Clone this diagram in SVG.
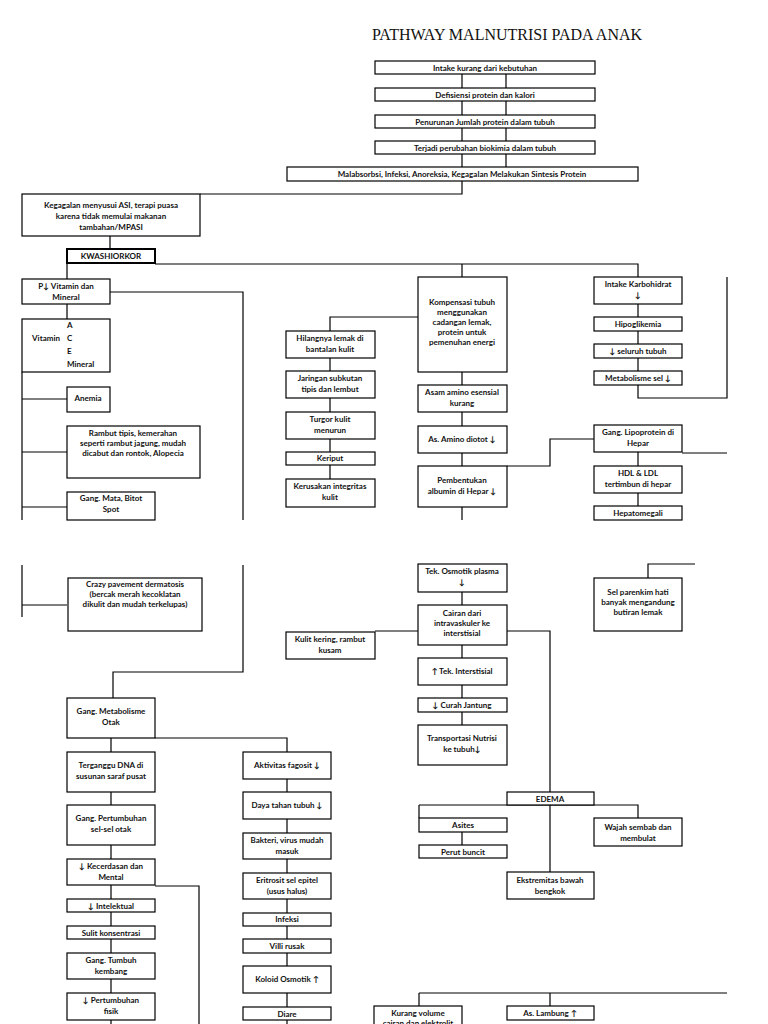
<svg xmlns="http://www.w3.org/2000/svg" width="768" height="1024" viewBox="0 0 768 1024">
<style>
rect{fill:#fff;stroke:#000;stroke-width:1.2}
.k{stroke-width:2}
#c path{fill:none;stroke:#000;stroke-width:1.2}
text{font-family:Lato,"Liberation Sans",sans-serif;font-size:8px;font-weight:bold;text-anchor:middle;fill:#111}
.t{font-family:"Liberation Serif",serif;font-size:16px;font-weight:normal}
.l{text-anchor:start}
</style>
<rect width="768" height="1024" style="fill:#fff;stroke:none"/>
<text class="t" x="507" y="40">PATHWAY MALNUTRISI PADA ANAK</text>
<g id="c">
<path d="M462 74V88M506 74V88M462 101V115M506 101V115M462 128V141M506 128V141M462 154V167M506 154V167"/>
<path d="M462 181V194H200M110 236V249M155 264H638V277M462 264V277M67 262V279"/>
<path d="M110 292H243V520M243 565V672H113V698"/>
<path d="M67 304V319M22 372V520M22 565V617M22 399H67M22 452H67M22 507H67M22 605H67"/>
<path d="M418 317H330V331M330 358V371M330 398V412M330 439V452M330 465V479"/>
<path d="M462 372V385M462 412V426M462 453V466M462 507V520M462 565V564M507 466H550V439H594"/>
<path d="M638 304V317M638 331V344M638 358V371M638 385V398H727V277"/>
<path d="M682 453H727M638 452V466M638 493V506M648 578V564H695"/>
<path d="M462 592V605M375 631H418M507 631H550V792M462 645V658M462 685V698M462 712V725"/>
<path d="M550 805V872M419 805H638V818M419 805V818M462 832V845"/>
<path d="M419 993H727M419 993V1006M550 993V1006"/>
<path d="M155 738H287V752M111 738V1024M155 886H199V1024"/>
<path d="M287 779V805M287 819V833M287 859V873M287 899V913M287 926V939M287 953V966M287 993V1007M287 1020V1024"/>
</g>
<g id="n1"><rect x="375" y="61" width="220" height="13"/><text x="485" y="71">Intake kurang dari kebutuhan</text></g>
<g id="n2"><rect x="375" y="88" width="220" height="13"/><text x="485" y="98">Defisiensi protein dan kalori</text></g>
<g id="n3"><rect x="375" y="115" width="220" height="13"/><text x="485" y="125">Penurunan Jumlah protein dalam tubuh</text></g>
<g id="n4"><rect x="375" y="141" width="220" height="13"/><text x="485" y="151">Terjadi perubahan biokimia dalam tubuh</text></g>
<g id="n5"><rect x="287" y="167" width="351" height="14"/><text x="462" y="177">Malabsorbsi, Infeksi, Anoreksia, Kegagalan Melakukan Sintesis Protein</text></g>
<g id="n6"><rect x="22" y="194" width="178" height="42"/><text x="111" y="208">Kegagalan menyusui ASI, terapi puasa</text><text x="111" y="219">karena tidak memulai makanan</text><text x="111" y="230">tambahan/MPASI</text></g>
<g id="n7"><rect class="k" x="67" y="249" width="88" height="14"/><text x="111" y="259">KWASHIORKOR</text></g>
<g id="n8"><rect x="22" y="279" width="88" height="25"/><text x="66" y="289">P↓ Vitamin dan</text><text x="66" y="300">Mineral</text></g>
<g id="n9"><rect x="22" y="319" width="88" height="53"/><text x="46" y="341">Vitamin</text><text class="l" x="67" y="328">A</text><text class="l" x="67" y="341">C</text><text class="l" x="67" y="354">E</text><text class="l" x="67" y="367">Mineral</text></g>
<g id="n10"><rect x="67" y="387" width="43" height="25"/><text x="88" y="401">Anemia</text></g>
<g id="n11"><rect x="67" y="426" width="133" height="52"/><text x="133" y="436">Rambut tipis, kemerahan</text><text x="133" y="446">seperti rambut jagung, mudah</text><text x="133" y="456">dicabut dan rontok, Alopecia</text></g>
<g id="n12"><rect x="67" y="492" width="88" height="28"/><text x="111" y="501">Gang. Mata, Bitot</text><text x="111" y="512">Spot</text></g>
<g id="n13"><rect x="68" y="578" width="134" height="53"/><text x="135" y="587">Crazy pavement dermatosis</text><text x="135" y="597">(bercak merah kecoklatan</text><text x="135" y="607">dikulit dan mudah terkelupas)</text></g>
<g id="n14"><rect x="418" y="277" width="89" height="95"/><text x="462" y="305">Kompensasi tubuh</text><text x="462" y="315">menggunakan</text><text x="462" y="325">cadangan lemak,</text><text x="462" y="335">protein untuk</text><text x="462" y="345">pemenuhan energi</text></g>
<g id="n15"><rect x="286" y="331" width="89" height="27"/><text x="330" y="341">Hilangnya lemak di</text><text x="330" y="352">bantalan kulit</text></g>
<g id="n16"><rect x="286" y="371" width="89" height="27"/><text x="330" y="381">Jaringan subkutan</text><text x="330" y="392">tipis dan lembut</text></g>
<g id="n17"><rect x="286" y="412" width="89" height="27"/><text x="330" y="422">Turgor kulit</text><text x="330" y="433">menurun</text></g>
<g id="n18"><rect x="286" y="452" width="89" height="13"/><text x="330" y="461">Keriput</text></g>
<g id="n19"><rect x="286" y="479" width="89" height="28"/><text x="330" y="489">Kerusakan integritas</text><text x="330" y="500">kulit</text></g>
<g id="n20"><rect x="418" y="385" width="89" height="27"/><text x="462" y="395">Asam amino esensial</text><text x="462" y="406">kurang</text></g>
<g id="n21"><rect x="418" y="426" width="89" height="27"/><text x="462" y="442">As. Amino diotot ↓</text></g>
<g id="n22"><rect x="418" y="466" width="89" height="41"/><text x="462" y="483">Pembentukan</text><text x="462" y="494">albumin di Hepar ↓</text></g>
<g id="n23"><rect x="594" y="277" width="88" height="27"/><text x="638" y="287">Intake Karbohidrat</text><text x="638" y="298">↓</text></g>
<g id="n24"><rect x="594" y="317" width="88" height="14"/><text x="638" y="327">Hipoglikemia</text></g>
<g id="n25"><rect x="594" y="344" width="88" height="14"/><text x="638" y="354">↓ seluruh tubuh</text></g>
<g id="n26"><rect x="594" y="371" width="88" height="14"/><text x="638" y="381">Metabolisme sel ↓</text></g>
<g id="n27"><rect x="594" y="425" width="88" height="27"/><text x="638" y="435">Gang. Lipoprotein di</text><text x="638" y="446">Hepar</text></g>
<g id="n28"><rect x="594" y="466" width="88" height="27"/><text x="638" y="476">HDL &amp; LDL</text><text x="638" y="487">tertimbun di hepar</text></g>
<g id="n29"><rect x="594" y="506" width="88" height="14"/><text x="638" y="516">Hepatomegali</text></g>
<g id="n30"><rect x="594" y="578" width="88" height="53"/><text x="638" y="595">Sel parenkim hati</text><text x="638" y="605">banyak mengandung</text><text x="638" y="615">butiran lemak</text></g>
<g id="n31"><rect x="418" y="564" width="89" height="28"/><text x="462" y="574">Tek. Osmotik plasma</text><text x="462" y="585">↓</text></g>
<g id="n32"><rect x="418" y="605" width="89" height="40"/><text x="462" y="616">Cairan dari</text><text x="462" y="626">intravaskuler ke</text><text x="462" y="636">interstisial</text></g>
<g id="n33"><rect x="286" y="632" width="89" height="27"/><text x="330" y="642">Kulit kering, rambut</text><text x="330" y="653">kusam</text></g>
<g id="n34"><rect x="418" y="658" width="89" height="27"/><text x="462" y="674">↑ Tek. Interstisial</text></g>
<g id="n35"><rect x="418" y="698" width="89" height="14"/><text x="462" y="708">↓ Curah Jantung</text></g>
<g id="n36"><rect x="418" y="725" width="89" height="40"/><text x="462" y="741">Transportasi Nutrisi</text><text x="462" y="752">ke tubuh↓</text></g>
<g id="n37"><rect x="507" y="792" width="87" height="13"/><text x="550" y="802">EDEMA</text></g>
<g id="n38"><rect x="419" y="818" width="88" height="14"/><text x="463" y="828">Asites</text></g>
<g id="n39"><rect x="419" y="845" width="88" height="13"/><text x="463" y="855">Perut buncit</text></g>
<g id="n40"><rect x="594" y="818" width="88" height="28"/><text x="638" y="830">Wajah sembab dan</text><text x="638" y="841">membulat</text></g>
<g id="n41"><rect x="507" y="872" width="87" height="27"/><text x="550" y="883">Ekstremitas bawah</text><text x="550" y="894">bengkok</text></g>
<g id="n42"><rect x="374" y="1006" width="88" height="24"/><text x="418" y="1016">Kurang volume</text><text x="418" y="1026">cairan dan elektrolit</text></g>
<g id="n43"><rect x="507" y="1006" width="87" height="14"/><text x="550" y="1016">As. Lambung ↑</text></g>
<g id="n44"><rect x="67" y="698" width="88" height="40"/><text x="111" y="714">Gang. Metabolisme</text><text x="111" y="725">Otak</text></g>
<g id="n45"><rect x="67" y="752" width="88" height="40"/><text x="111" y="768">Terganggu DNA di</text><text x="111" y="779">susunan saraf pusat</text></g>
<g id="n46"><rect x="67" y="805" width="88" height="40"/><text x="111" y="821">Gang. Pertumbuhan</text><text x="111" y="832">sel-sel otak</text></g>
<g id="n47"><rect x="67" y="859" width="88" height="26"/><text x="111" y="869">↓ Kecerdasan dan</text><text x="111" y="880">Mental</text></g>
<g id="n48"><rect x="67" y="899" width="88" height="13"/><text x="111" y="909">↓ Intelektual</text></g>
<g id="n49"><rect x="67" y="926" width="88" height="13"/><text x="111" y="936">Sulit konsentrasi</text></g>
<g id="n50"><rect x="67" y="953" width="88" height="26"/><text x="111" y="963">Gang. Tumbuh</text><text x="111" y="974">kembang</text></g>
<g id="n51"><rect x="67" y="993" width="88" height="27"/><text x="111" y="1003">↓ Pertumbuhan</text><text x="111" y="1014">fisik</text></g>
<g id="n52"><rect x="243" y="752" width="88" height="27"/><text x="287" y="768">Aktivitas fagosit ↓</text></g>
<g id="n53"><rect x="243" y="792" width="88" height="27"/><text x="287" y="808">Daya tahan tubuh ↓</text></g>
<g id="n54"><rect x="243" y="833" width="88" height="26"/><text x="287" y="843">Bakteri, virus mudah</text><text x="287" y="854">masuk</text></g>
<g id="n55"><rect x="243" y="873" width="88" height="26"/><text x="287" y="883">Eritrosit sel epitel</text><text x="287" y="894">(usus halus)</text></g>
<g id="n56"><rect x="243" y="913" width="88" height="13"/><text x="287" y="922">Infeksi</text></g>
<g id="n57"><rect x="243" y="939" width="88" height="14"/><text x="287" y="949">Villi rusak</text></g>
<g id="n58"><rect x="243" y="966" width="88" height="27"/><text x="287" y="982">Koloid Osmotik ↑</text></g>
<g id="n59"><rect x="243" y="1007" width="88" height="13"/><text x="287" y="1017">Diare</text></g>
</svg>
